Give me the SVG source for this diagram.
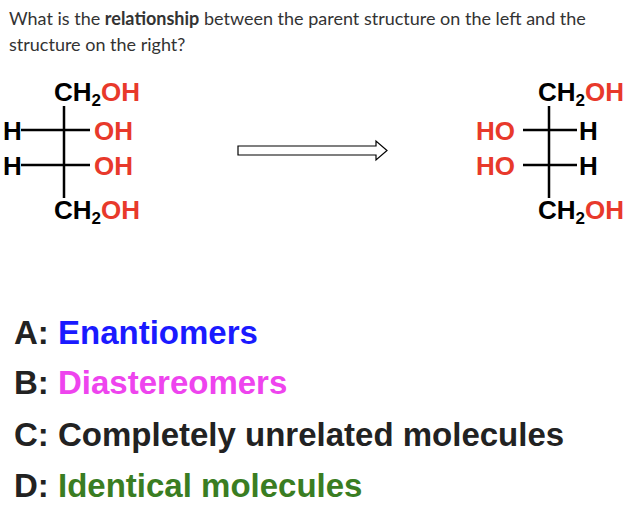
<svg xmlns="http://www.w3.org/2000/svg" width="638" height="514" viewBox="0 0 638 514">
<style>
.q{font-family:Lato,"Liberation Sans",sans-serif;font-size:18px;fill:#333}
.c{font-family:"Liberation Sans",Arial,sans-serif;font-size:26px;font-weight:bold;fill:#000}
.r{fill:#e8392b}
.b{stroke:#000;stroke-width:2.5;fill:none}
.a{font-family:"Liberation Sans",Arial,sans-serif;font-size:33px;font-weight:bold;fill:#222}
</style>
<rect width="638" height="514" fill="#fff"/>
<text class="q" x="9" y="25">What is the <tspan font-weight="bold">relationship</tspan> between the parent structure on the left and the</text>
<text class="q" x="9" y="51">structure on the right?</text>
<g id="left">
<text class="c" x="54" y="101">CH<tspan font-size="17" dy="5">2</tspan><tspan class="r" dy="-5">OH</tspan></text>
<text class="c" x="3" y="140">H</text><text class="c r" x="94" y="140">OH</text>
<text class="c" x="3" y="175">H</text><text class="c r" x="94" y="175">OH</text>
<text class="c" x="54" y="219">CH<tspan font-size="17" dy="5">2</tspan><tspan class="r" dy="-5">OH</tspan></text>
<path class="b" d="M64 106V198M21 130H90M21 165H90"/>
</g>
<g id="connectors">
<path d="M238 146H376V141L387 150.5L376 160V155H238Z" fill="#fff" stroke="#000" stroke-width="1.2"/>
</g>
<g id="right">
<text class="c" x="538" y="101">CH<tspan font-size="17" dy="5">2</tspan><tspan class="r" dy="-5">OH</tspan></text>
<text class="c r" x="476" y="140">HO</text><text class="c" x="579" y="140">H</text>
<text class="c r" x="476" y="175">HO</text><text class="c" x="579" y="175">H</text>
<text class="c" x="538" y="219">CH<tspan font-size="17" dy="5">2</tspan><tspan class="r" dy="-5">OH</tspan></text>
<path class="b" d="M549 106V198M523 130H577M523 165H577"/>
</g>
<g id="answers">
<text class="a" x="14" y="344">A: <tspan fill="#1a1aff">Enantiomers</tspan></text>
<text class="a" x="14" y="394">B: <tspan fill="#ee44ee">Diastereomers</tspan></text>
<text class="a" x="14" y="446">C: Completely unrelated molecules</text>
<text class="a" x="14" y="497">D: <tspan fill="#3a7d22">Identical molecules</tspan></text>
</g>
</svg>
